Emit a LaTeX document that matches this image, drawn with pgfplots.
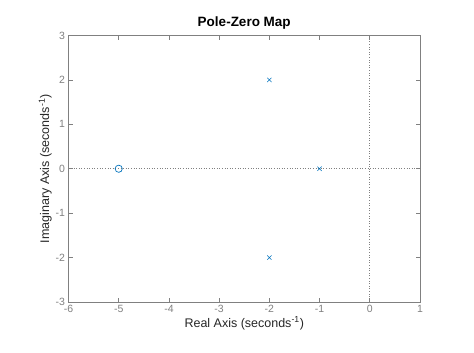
\documentclass[border=0pt]{standalone}
\usepackage{pgfplots}
\pgfplotsset{compat=1.18}
\usepackage{fontspec}
\setmainfont{Liberation Sans}
\definecolor{mblue}{RGB}{0,114,189}
\definecolor{axgray}{RGB}{128,128,128}
\definecolor{lblgray}{RGB}{38,38,38}
\begin{document}
\begin{tikzpicture}
\useasboundingbox (0pt,0pt) rectangle (474pt,353pt);
\begin{axis}[
  at={(68.5pt,51pt)}, anchor=south west,
  width=351.5pt, height=266.5pt, scale only axis,
  xmin=-6, xmax=1, ymin=-3, ymax=3,
  xtick={-6,...,1}, ytick={-3,...,3},
  tick align=inside,
  major tick length=4pt,
  axis line style={axgray, line width=0.6pt},
  tick style={axgray, line width=0.6pt},
  ticklabel style={axgray, font=\fontsize{10.5}{12}\selectfont},
  /pgf/number format/assume math mode=true,
  title={\textbf{Pole-Zero Map}},
  title style={font=\fontsize{13.5}{15}\selectfont, text=black, yshift=-3pt},
  xlabel={Real Axis (seconds\textsuperscript{-1})},
  ylabel={Imaginary Axis (seconds\textsuperscript{-1})},
  label style={font=\fontsize{12.5}{14}\selectfont, text=lblgray},
  xlabel style={yshift=3pt},
  ylabel style={yshift=-3pt},
  clip=false,
]
\addplot[gray, dotted, line width=0.6pt] coordinates {(0,-3) (0,3)};
\addplot[gray, dotted, line width=0.6pt] coordinates {(-6,0) (1,0)};
\addplot[only marks, mark=x, mark size=3pt, mblue, line width=0.6pt] coordinates {(-2,2) (-2,-2) (-1,0)};
\addplot[only marks, mark=o, mark size=3.6pt, mblue, line width=0.7pt] coordinates {(-5,0)};
\end{axis}
\end{tikzpicture}
\end{document}
